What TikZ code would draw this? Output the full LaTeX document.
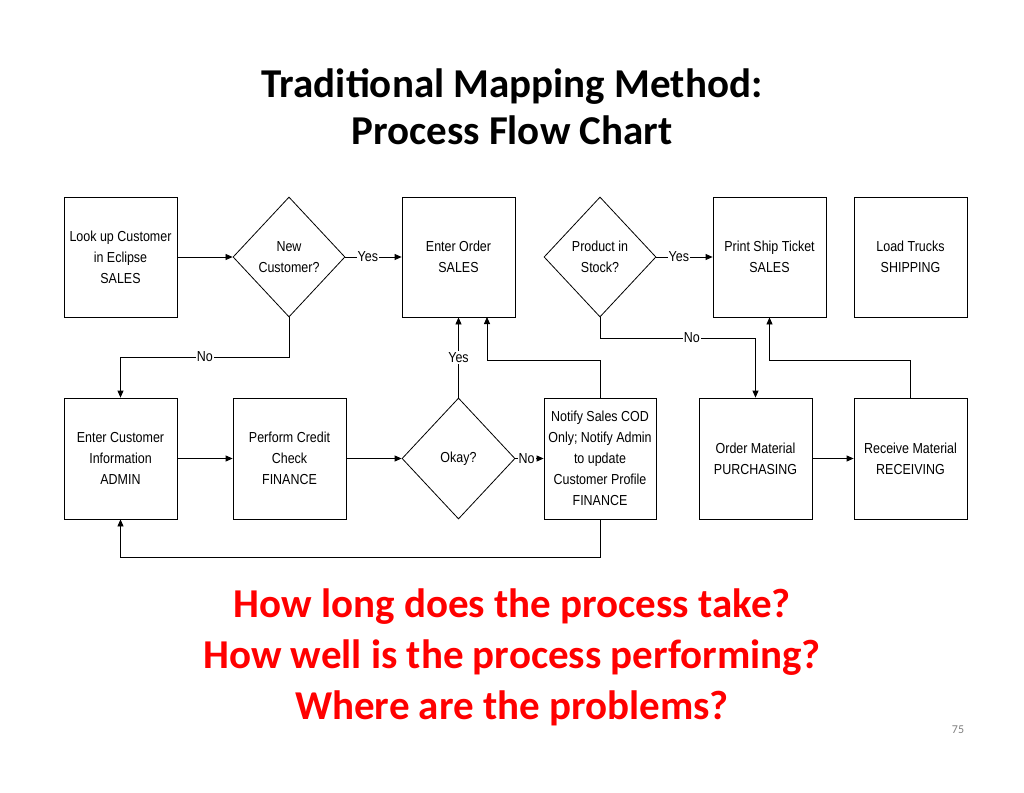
\documentclass[tikz,border=0pt]{standalone}
\usepackage{fontspec}
\setmainfont{Liberation Sans}
\newfontfamily\narrowf[FakeStretch=0.86]{Liberation Sans}
\newfontfamily\calib{Carlito}
\usetikzlibrary{shapes.geometric,arrows.meta}
\begin{document}
\begin{tikzpicture}[x=1pt,y=-1pt,
  box/.style={draw,line width=0.8pt,minimum width=113pt,minimum height=120pt,align=center,inner sep=1pt,font=\narrowf\fontsize{14.5}{21}\selectfont},
  dia/.style={draw,line width=0.8pt,diamond,minimum width=112pt,minimum height=120pt,align=center,inner sep=0pt,font=\narrowf\fontsize{14.5}{21}\selectfont},
  arr/.style={line width=0.8pt,-{Triangle[length=7pt,width=6pt]}},
  lab/.style={fill=white,inner sep=1pt,font=\narrowf\fontsize{14.5}{16}\selectfont},
  title/.style={font=\calib\bfseries\fontsize{41}{47}\selectfont,align=center},
  red/.style={font=\calib\bfseries\fontsize{41}{51}\selectfont,align=center,text={rgb,255:red,255;green,0;blue,0}}]
\useasboundingbox (0,0) rectangle (1024,792);
\node[title] (t) at (512,107) {Traditional Mapping Method:\\Process Flow Chart};
\node[box] (look) at (120.5,257) {Look up Customer\\in Eclipse\\SALES};
\node[dia] (new) at (289,257) {New\\Customer?};
\node[box] (order) at (458.5,257) {Enter Order\\SALES};
\node[dia] (stock) at (600,257) {Product in\\Stock?};
\node[box] (print) at (769.5,257) {Print Ship Ticket\\SALES};
\node[box] (load) at (910.5,257) {Load Trucks\\SHIPPING};
\node[box,minimum height=121pt] (cust) at (120.5,458.5) {Enter Customer\\Information\\ADMIN};
\node[box,minimum height=121pt] (credit) at (289.5,458.5) {Perform Credit\\Check\\FINANCE};
\node[dia,minimum width=113pt,minimum height=121pt] (okay) at (458.5,458.5) {Okay?};
\node[box,minimum width=112pt,minimum height=121pt] (notify) at (600,458.5) {Notify Sales COD\\Only; Notify Admin\\to update\\Customer Profile\\FINANCE};
\node[box,minimum height=121pt] (omat) at (755.5,458.5) {Order Material\\PURCHASING};
\node[box,minimum height=121pt] (rmat) at (910.5,458.5) {Receive Material\\RECEIVING};
\draw[arr] (look) -- (new);
\draw[arr] (new) -- node[lab,pos=0.4] {Yes} (order);
\draw[arr] (stock) -- node[lab,pos=0.4] {Yes} (print);
\draw[arr] (new.south) -- (289,357) -- node[lab,pos=0.5] {No} (120.5,357) -- (cust.north);
\draw[arr] (stock.south) -- (600,338) -- node[lab,pos=0.59] {No} (755.5,338) -- (omat.north);
\draw[arr] (okay.north) -- node[lab] {Yes} (order.south);
\draw[arr] (notify.north) -- (600,360) -- (487,360) -- (487,317);
\draw[arr] (okay) -- node[lab,pos=0.4] {No} (notify);
\draw[arr] (notify.south) -- (600,557) -- (120.5,557) -- (cust.south);
\draw[arr] (cust) -- (credit);
\draw[arr] (credit) -- (okay);
\draw[arr] (omat) -- (rmat);
\draw[arr] (rmat.north) -- (910.5,360) -- (769.5,360) -- (print.south);
\node[red] (q) at (512,657) {How long does the process take?\\How well is the process performing?\\Where are the problems?};
\node[font=\calib\fontsize{12}{14}\selectfont,text=gray] (pg) at (958,730) {75};
\end{tikzpicture}
\end{document}
